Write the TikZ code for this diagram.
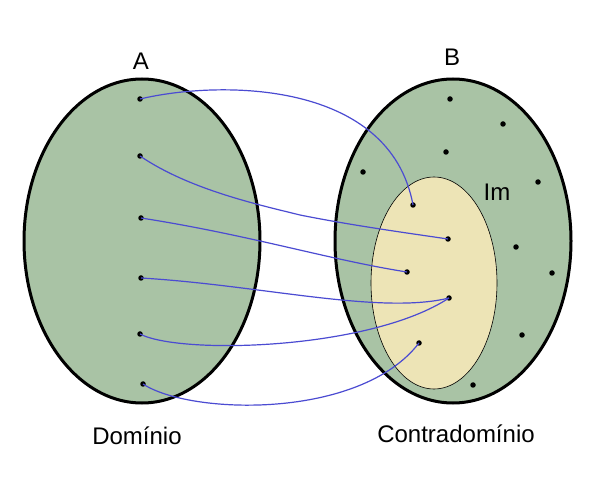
\documentclass[tikz,border=0pt]{standalone}
\usepackage{fontspec}
\setmainfont{Liberation Sans}
\begin{document}
\begin{tikzpicture}[x=1pt,y=-1pt,
  setA/.style={draw=black,line width=3pt,fill=setgreen},
  imset/.style={draw=black,line width=0.6pt,fill=imyellow},
  pt/.style={circle,fill=black,inner sep=0pt,minimum size=5.5pt},
  map/.style={draw=mapblue,line width=1.2pt},
  lab/.style={font=\fontsize{24}{28}\selectfont}]
\definecolor{setgreen}{HTML}{A9C3A5}
\definecolor{imyellow}{HTML}{EDE4B6}
\definecolor{mapblue}{HTML}{4B4BD2}
\useasboundingbox (0,0) rectangle (600,478);
\fill[white] (0,0) rectangle (600,478);
\draw[setA] (142,241) ellipse [x radius=118,y radius=162];
\draw[setA] (453,241) ellipse [x radius=118,y radius=162];
\draw[imset] (434,283) ellipse [x radius=63,y radius=106];
\node[lab] (lA) at (141,61) {A};
\node[lab] (lB) at (452,57) {B};
\node[lab] (lIm) at (497,192) {Im};
\node[lab] (ld) at (137,436) {Domínio};
\node[lab] (lc) at (456,434) {Contradomínio};
\foreach \n/\x/\y in {a1/140/99,a2/140/156,a3/141/218,a4/141/278,a5/140/334,a6/143/384,
  b1/413/205,b2/448/239,b3/407/272,b4/449/298,b5/419/343,
  e1/450/99,e2/503/124,e3/446/152,e4/363/172,e5/538/182,e6/516/247,e7/552/273,e8/522/335,e9/473/385}
  \node[pt] (\n) at (\x,\y) {};
\draw[map] (a1.center) .. controls (220,80) and (390,80) .. (b1.center);
\draw[map] (a2.center) .. controls (190,190) and (260,205) .. (300,215) .. controls (350,225) and (400,232) .. (b2.center);
\draw[map] (a3.center) .. controls (250,235) and (330,260) .. (b3.center);
\draw[map] (a4.center) .. controls (260,285) and (380,315) .. (b4.center);
\draw[map] (a5.center) .. controls (180,355) and (370,350) .. (b4.center);
\draw[map] (a6.center) .. controls (190,415) and (360,420) .. (b5.center);
\end{tikzpicture}
\end{document}
